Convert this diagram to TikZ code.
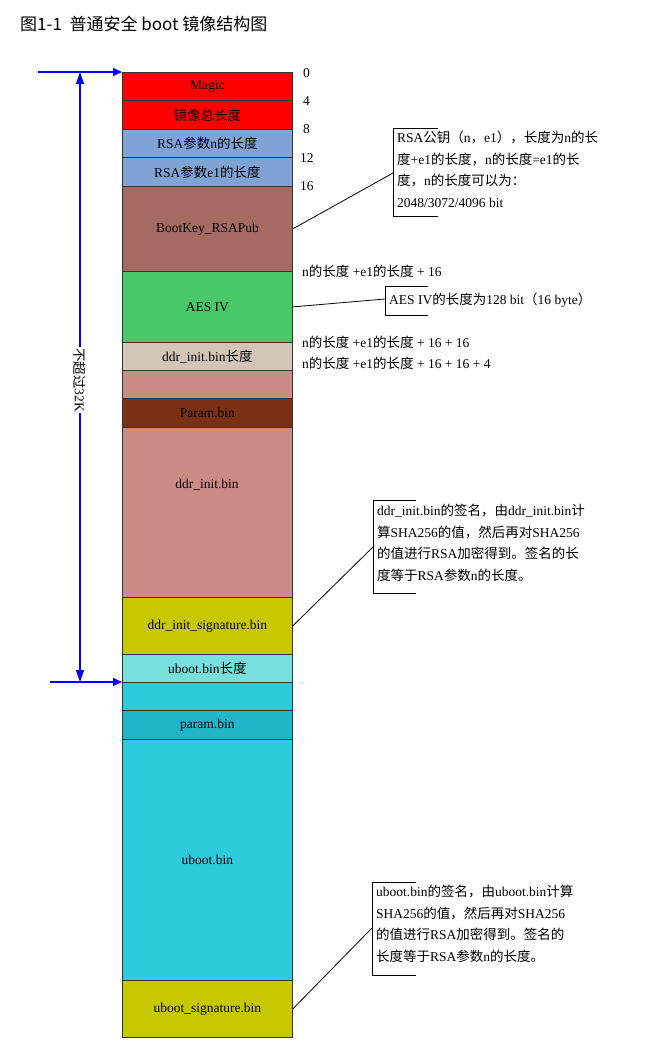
\documentclass[tikz,border=0pt]{standalone}
\usepackage{fontspec}
\setmainfont{Liberation Serif}
\newfontfamily\cjk{Noto Sans CJK SC}
\newcommand{\zh}[1]{{\cjk #1}}
\usetikzlibrary{arrows.meta}
\definecolor{cRed}{HTML}{FF0000}
\definecolor{cBlue}{HTML}{7FA3D5}
\definecolor{cBrown}{HTML}{A56B63}
\definecolor{cGreen}{HTML}{48C868}
\definecolor{cBeige}{HTML}{D3C4B8}
\definecolor{cPink}{HTML}{CD8B86}
\definecolor{cDark}{HTML}{7B3014}
\definecolor{cOlive}{HTML}{C8C800}
\definecolor{cLCyan}{HTML}{77E0DC}
\definecolor{cCyan}{HTML}{2DCBDC}
\definecolor{cDCyan}{HTML}{20B5C8}
\begin{document}
\begin{tikzpicture}[x=1pt,y=-1pt,
  font=\fontsize{13.5}{16}\selectfont,
  seg/.style={draw=black!80,line width=0.8pt,minimum width=170pt,inner sep=0pt,anchor=north west},
  off/.style={anchor=west,inner sep=0pt},
  note/.style={anchor=north west,inner sep=0pt,align=left,font=\fontsize{13.5}{21.5}\selectfont},
  dim/.style={draw=blue,line width=1.2pt},
  lead/.style={draw=black,line width=0.8pt}]
\useasboundingbox (0,0) rectangle (654,1046);
\node[anchor=west,inner sep=0pt,font=\fontsize{17}{20}\selectfont\cjk] (title) at (20,24) {图1-1\ \ 普通安全 boot 镜像结构图};
% segments
\newcommand{\seg}[5]{\node[seg,fill=#3,minimum height=#2-#1] (#5) at (122,#1) {#4};}
\seg{72}{100}{cRed}{Magic}{s1}
\seg{100}{129}{cRed}{\zh{镜像总长度}}{s2}
\seg{129}{157}{cBlue}{RSA\zh{参数}n\zh{的长度}}{s3}
\seg{157}{186}{cBlue}{RSA\zh{参数}e1\zh{的长度}}{s4}
\seg{186}{271}{cBrown}{BootKey\_RSAPub}{s5}
\seg{271}{342}{cGreen}{AES IV}{s6}
\seg{342}{370}{cBeige}{ddr\_init.bin\zh{长度}}{s7}
\seg{370}{398}{cPink}{}{s8}
\seg{398}{427}{cDark}{Param.bin}{s9}
\node[seg,fill=cPink,minimum height=170pt] (s10) at (122,427) {};
\node (t10) at (207,485) {ddr\_init.bin};
\seg{597}{654}{cOlive}{ddr\_init\_signature.bin}{s11}
\seg{654}{682}{cLCyan}{uboot.bin\zh{长度}}{s12}
\seg{682}{710}{cCyan}{}{s13}
\seg{710}{739}{cDCyan}{param.bin}{s14}
\seg{739}{980}{cCyan}{uboot.bin}{s15}
\seg{980}{1037}{cOlive}{uboot\_signature.bin}{s16}
% offsets
\node[off] (o0) at (303,73) {0};
\node[off] (o4) at (303,101) {4};
\node[off] (o8) at (303,129) {8};
\node[off] (o12) at (300,158) {12};
\node[off] (o16) at (300,186) {16};
\node[off] (o5) at (302,271) {n\zh{的长度} +e1\zh{的长度} + 16};
\node[off] (o6) at (302,342) {n\zh{的长度} +e1\zh{的长度} + 16 + 16};
\node[off] (o7) at (302,363) {n\zh{的长度} +e1\zh{的长度} + 16 + 16 + 4};
% dimension
\coordinate (a1) at (38,72);
\coordinate (a2) at (50,682);
\draw[dim,-{Triangle[length=9pt,width=8pt]}] (a1) -- (s1.north west);
\draw[dim,-{Triangle[length=9pt,width=8pt]}] (a2) -- (s13.north west);
\coordinate (v1) at (80,72);
\coordinate (v2) at (80,682);
\draw[dim,{Triangle[length=12pt,width=8pt]}-{Triangle[length=12pt,width=8pt]}] (v1) -- (v2);
\node[rotate=-90,fill=white,inner sep=1pt,font=\fontsize{13.5}{16}\selectfont] (lim) at (80,380) {\zh{不超过}32K};
% callouts
\draw[lead] (438,128) -- (393,128) -- (393,216) -- (438,216);
\node[note] (n1) at (397,131) {RSA\zh{公钥（}n\zh{，}e1\zh{），长度为}n\zh{的长}\\\zh{度}+e1\zh{的长度，}n\zh{的长度}=e1\zh{的长}\\\zh{度，}n\zh{的长度可以为：}\\2048/3072/4096 bit};
\coordinate (c1) at (393,173);
\draw[lead] (s5.east) -- (c1);
\draw[lead] (428,286) -- (385,286) -- (385,315) -- (428,315);
\node[off] (n2) at (389,300) {AES IV\zh{的长度为}128 bit\zh{（}16 byte\zh{）}};
\coordinate (c2) at (385,299);
\draw[lead] (s6.east) -- (c2);
\draw[lead] (416,500) -- (373,500) -- (373,593) -- (416,593);
\node[note] (n3) at (377,504) {ddr\_init.bin\zh{的签名，由}ddr\_init.bin\zh{计}\\\zh{算}SHA256\zh{的值，然后再对}SHA256\\\zh{的值进行}RSA\zh{加密得到。签名的长}\\\zh{度等于}RSA\zh{参数}n\zh{的长度。}};
\coordinate (c3) at (373,547);
\draw[lead] (s11.east) -- (c3);
\draw[lead] (416,882) -- (372,882) -- (372,975) -- (416,975);
\node[note] (n4) at (376,885) {uboot.bin\zh{的签名，由}uboot.bin\zh{计算}\\SHA256\zh{的值，然后再对}SHA256\\\zh{的值进行}RSA\zh{加密得到。签名的}\\\zh{长度等于}RSA\zh{参数}n\zh{的长度。}};
\coordinate (c4) at (372,928);
\draw[lead] (s16.east) -- (c4);
\end{tikzpicture}
\end{document}
